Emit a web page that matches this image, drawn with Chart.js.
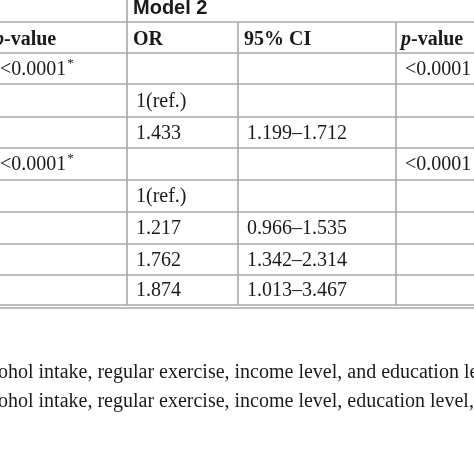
<!DOCTYPE html>
<html><head><meta charset="utf-8">
<script src="https://cdn.jsdelivr.net/npm/chart.js@4"></script>
<style>html,body{margin:0;padding:0;background:#fff;}#w{width:474px;height:474px;}</style>
</head><body><div id="w"><canvas id="c"></canvas></div>
<script>
const headerLabels = ["p-value", "OR", "95% CI", "p-value"];
const groupTitle = "Model 2";
const leftPValues = ["<0.0001*", "", "", "<0.0001*", "", "", "", ""];
const orValues = ["", "1(ref.)", "1.433", "", "1(ref.)", "1.217", "1.762", "1.874"];
const ciValues = ["", "", "1.199–1.712", "", "", "0.966–1.535", "1.342–2.314", "1.013–3.467"];
const rightPValues = ["<0.0001", "", "", "<0.0001", "", "", "", ""];
const footnotes = ["alcohol intake, regular exercise, income level, and education level",
                   "alcohol intake, regular exercise, income level, education level,"];
const colX = [0, 127, 238, 396, 474];
const rowY = [22, 53, 84, 117, 148, 180, 212, 244, 275, 305];

const tablePlugin = {
  id: 'table',
  afterDraw(chart) {
    const ctx = chart.ctx, xs = chart.scales.x, ys = chart.scales.y;
    const X = v => xs.getPixelForValue(v), Y = v => ys.getPixelForValue(v);
    const F = '20px "Liberation Serif"';
    ctx.save();
    ctx.strokeStyle = '#a8a8a8'; ctx.lineWidth = 1.6;
    rowY.forEach(y => { ctx.beginPath(); ctx.moveTo(X(0), Y(y)); ctx.lineTo(X(474), Y(y)); ctx.stroke(); });
    ctx.beginPath(); ctx.moveTo(X(0), Y(308)); ctx.lineTo(X(474), Y(308)); ctx.stroke();
    [1,2,3].forEach(i => { ctx.beginPath(); ctx.moveTo(X(colX[i]), Y(i===1?0:22)); ctx.lineTo(X(colX[i]), Y(305)); ctx.stroke(); });
    ctx.fillStyle = '#1a1a1a'; ctx.textBaseline = 'middle';
    ctx.font = 'bold 20px "Liberation Sans"';
    ctx.fillText(groupTitle, X(133), Y(8));
    const hy = Y(40);
    const drawP = (x) => { ctx.font = 'bold italic 20px "Liberation Serif"'; ctx.fillText('p', x, hy);
      const w = ctx.measureText('p').width; ctx.font = 'bold 20px "Liberation Serif"'; ctx.fillText('-value', x + w, hy); };
    drawP(X(-6));
    ctx.font = 'bold 20px "Liberation Serif"';
    ctx.fillText(headerLabels[1], X(133), hy); ctx.fillText(headerLabels[2], X(244), hy); drawP(X(401));
    const drawVal = (s, x, cy) => {
      ctx.font = F;
      if (s.endsWith('*')) {
        const b = s.slice(0, -1); ctx.fillText(b, x, cy);
        const w = ctx.measureText(b).width;
        ctx.font = '13px "Liberation Serif"'; ctx.fillText('*', x + w + 1, cy - 6);
      } else ctx.fillText(s, x, cy);
    };
    for (let i = 0; i < orValues.length; i++) {
      const cy = Y((rowY[i+1] + rowY[i+2]) / 2 + 1);
      drawVal(leftPValues[i], X(0), cy);
      drawVal(orValues[i], X(136), cy);
      drawVal(ciValues[i], X(247), cy);
      drawVal(rightPValues[i], X(405), cy);
    }
    ctx.font = F;
    const off = ctx.measureText('alc').width;
    ctx.fillText(footnotes[0], X(0) - off - 2, Y(373));
    ctx.fillText(footnotes[1], X(0) - off - 2, Y(402));
    ctx.restore();
  }
};

new Chart(document.getElementById('c'), {
  type: 'scatter',
  data: { datasets: [{ data: [], pointRadius: 0 }] },
  options: {
    responsive: true, maintainAspectRatio: false, animation: false,
    layout: { padding: 0 },
    plugins: { legend: { display: false }, tooltip: { enabled: false } },
    scales: {
      x: { type: 'linear', min: 0, max: 474, display: false },
      y: { type: 'linear', min: 0, max: 474, reverse: true, display: false }
    }
  },
  plugins: [tablePlugin]
});
</script></body></html>
